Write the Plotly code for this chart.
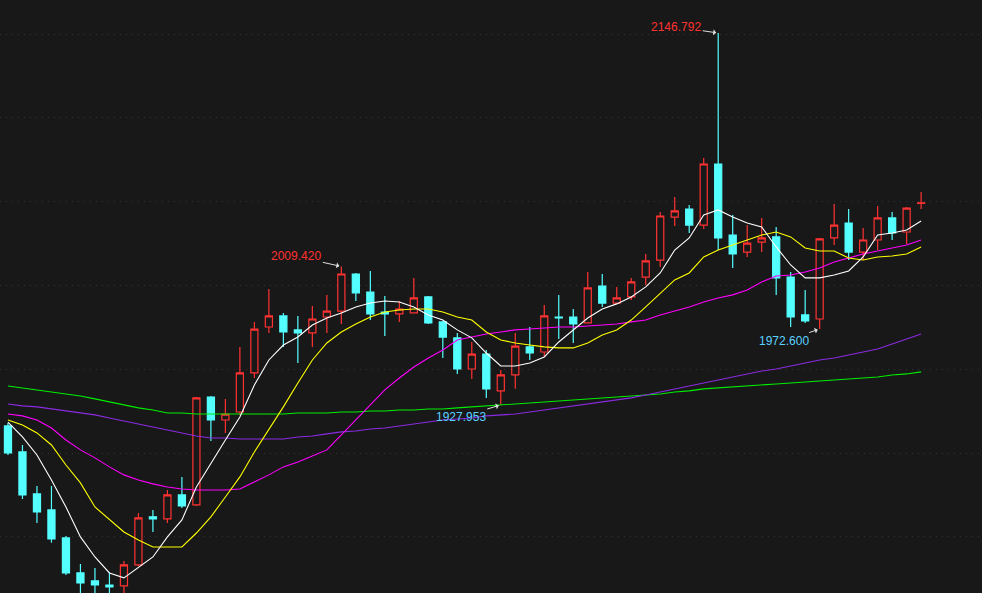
import plotly.graph_objects as go

# OHLC per session
opens = [1915.6, 1900.3, 1875.6, 1866.2, 1849.7, 1829.1, 1824.4, 1822.0, 1821.5, 1833.8,
         1862.1, 1860.9, 1875.0, 1869.1, 1932.6, 1919.1, 1923.8, 1946.8, 1973.8, 1980.3,
         1972.1, 1970.3, 1979.7, 1983.2, 2005.0, 1994.4, 1982.6, 1981.5, 1982.1, 1991.5,
         1976.8, 1967.4, 1949.1, 1957.9, 1936.2, 1945.6, 1962.1, 1959.1, 1979.7, 1979.7,
         1976.2, 1997.9, 1987.9, 1991.5, 2003.2, 2013.2, 2038.5, 2043.2, 2033.8, 2069.7,
         2027.9, 2017.9, 2023.8, 2026.8, 2003.2, 1980.9, 1978.5, 2026.2, 2035.0, 2017.9,
         2025.0, 2038.0, 2029.7, 2046.5]
highs = [1917.3, 1904.4, 1880.3, 1880.3, 1850.9, 1834.4, 1832.0, 1829.7, 1836.2, 1864.4,
         1866.2, 1877.9, 1885.6, 1932.6, 1933.2, 1931.5, 1962.1, 1976.8, 1996.2, 1982.1,
         1980.3, 1986.2, 1992.7, 2009.42, 2005.6, 2006.8, 1992.1, 1989.1, 2002.7, 1992.1,
         1977.4, 1970.3, 1965.0, 1960.3, 1948.5, 1970.3, 1973.8, 1986.8, 1992.7, 1984.4,
         2006.2, 2005.0, 1997.4, 2002.7, 2016.8, 2041.5, 2050.3, 2045.6, 2073.2, 2146.792,
         2039.7, 2033.8, 2038.0, 2032.7, 2006.2, 1995.6, 2026.2, 2046.2, 2043.2, 2032.1,
         2045.0, 2041.5, 2044.4, 2053.2]
lows = [1898.5, 1872.6, 1858.5, 1846.8, 1827.9, 1815.0, 1815.6, 1816.2, 1817.3, 1833.2,
        1853.2, 1858.5, 1867.3, 1868.5, 1906.8, 1911.5, 1922.1, 1943.8, 1970.3, 1962.1,
        1952.6, 1962.1, 1970.3, 1975.6, 1989.1, 1977.9, 1968.5, 1976.8, 1982.1, 1975.5,
        1955.6, 1946.2, 1943.2, 1932.1, 1927.953, 1937.4, 1954.4, 1956.2, 1966.8, 1964.4,
        1976.2, 1985.6, 1987.9, 1989.7, 1998.5, 2009.1, 2033.2, 2029.1, 2031.5, 2019.1,
        2008.5, 2015.0, 2017.9, 1992.7, 1973.8, 1976.2, 1972.6, 2022.1, 2013.2, 2013.2,
        2019.1, 2025.0, 2022.7, 2043.2]
closes = [1899.7, 1875.0, 1865.0, 1849.1, 1829.1, 1823.2, 1822.0, 1820.9, 1833.8, 1861.5,
          1860.9, 1875.0, 1868.5, 1932.1, 1919.1, 1922.6, 1946.8, 1972.6, 1980.3, 1970.9,
          1970.3, 1978.5, 1983.2, 2005.0, 1993.8, 1981.5, 1981.5, 1984.4, 1990.9, 1976.2,
          1967.9, 1949.1, 1957.9, 1937.4, 1945.6, 1962.6, 1958.5, 1980.3, 1979.1, 1975.6,
          1996.8, 1987.9, 1990.9, 2000.3, 2012.7, 2039.1, 2042.1, 2033.8, 2069.7, 2026.2,
          2016.8, 2023.2, 2026.2, 2002.7, 1979.7, 1977.4, 2025.6, 2033.8, 2017.9, 2025.0,
          2038.0, 2029.1, 2043.8, 2046.8]

# moving averages as drawn (they reach back before the visible window)
ma5 = [1917.9, 1909.1, 1898.5, 1883.8, 1867.9, 1850.3, 1838.5, 1829.1, 1826.2, 1832.6,
       1838.5, 1850.3, 1860.3, 1879.7, 1893.8, 1907.3, 1920.9, 1939.7, 1954.4, 1963.2,
       1967.9, 1975.0, 1979.1, 1982.1, 1985.6, 1987.9, 1989.1, 1988.5, 1985.6, 1980.9,
       1977.9, 1972.1, 1967.4, 1958.5, 1950.9, 1950.9, 1952.6, 1956.2, 1965.0, 1972.1,
       1979.1, 1984.4, 1987.4, 1991.5, 1997.4, 2005.6, 2019.1, 2026.2, 2039.7, 2042.7,
       2038.5, 2035.0, 2032.7, 2020.9, 2010.3, 2002.7, 2002.7, 2004.4, 2006.8, 2015.0,
       2027.9, 2029.1, 2030.9, 2036.2]
ma10 = [1919.1, 1916.2, 1911.5, 1904.4, 1892.6, 1882.1, 1867.9, 1860.3, 1853.2, 1848.5,
        1844.4, 1844.4, 1844.4, 1852.6, 1862.1, 1873.8, 1885.6, 1900.3, 1913.2, 1926.8,
        1940.9, 1954.4, 1964.4, 1970.9, 1975.6, 1979.7, 1982.6, 1983.8, 1984.4, 1984.4,
        1982.6, 1979.7, 1977.9, 1970.9, 1966.2, 1964.4, 1963.2, 1962.1, 1961.5, 1961.5,
        1964.4, 1969.1, 1972.1, 1977.9, 1985.6, 1993.8, 2001.5, 2005.6, 2015.0, 2019.1,
        2022.1, 2025.0, 2027.9, 2029.7, 2026.8, 2020.3, 2018.5, 2018.5, 2014.4, 2013.2,
        2015.0, 2015.6, 2016.8, 2020.9]
ma20 = [1922.6, 1921.5, 1919.1, 1914.4, 1907.3, 1901.5, 1896.8, 1891.5, 1886.8, 1883.8,
        1881.5, 1879.7, 1878.5, 1877.9, 1877.9, 1877.9, 1878.5, 1882.6, 1886.8, 1891.5,
        1894.4, 1897.9, 1901.5, 1910.3, 1919.1, 1928.5, 1936.8, 1943.8, 1950.3, 1955.6,
        1960.3, 1966.2, 1967.9, 1969.7, 1970.9, 1972.1, 1972.6, 1973.2, 1973.8, 1973.8,
        1974.4, 1975.0, 1975.6, 1976.8, 1977.9, 1980.9, 1983.2, 1985.6, 1988.5, 1990.9,
        1992.7, 1995.6, 2000.3, 2003.8, 2004.4, 2006.2, 2008.5, 2012.1, 2014.4, 2016.8,
        2018.5, 2020.3, 2022.1, 2025.0]
ma60 = [1928.5, 1927.4, 1926.8, 1925.6, 1924.4, 1923.2, 1922.1, 1920.3, 1918.5, 1916.8,
        1915.0, 1913.2, 1911.5, 1909.7, 1908.5, 1908.5, 1907.9, 1907.9, 1907.9, 1907.9,
        1909.1, 1909.7, 1910.9, 1912.1, 1912.6, 1913.8, 1914.4, 1915.6, 1916.8, 1917.9,
        1919.1, 1919.7, 1920.3, 1921.5, 1922.1, 1922.6, 1923.8, 1925.0, 1926.2, 1927.4,
        1928.5, 1929.7, 1930.9, 1932.1, 1933.8, 1935.6, 1937.4, 1939.1, 1940.9, 1942.6,
        1944.4, 1946.2, 1947.9, 1949.1, 1950.9, 1952.6, 1954.4, 1955.6, 1957.4, 1959.1,
        1960.9, 1963.8, 1966.8, 1969.7]
ma120 = [1939.1, 1937.9, 1936.8, 1935.6, 1934.4, 1933.2, 1931.5, 1929.7, 1927.9, 1926.2,
         1925.0, 1923.2, 1923.2, 1922.6, 1922.6, 1922.6, 1922.6, 1922.6, 1922.6, 1922.6,
         1923.2, 1923.2, 1923.2, 1923.8, 1923.8, 1924.4, 1924.4, 1925.0, 1925.0, 1925.6,
         1925.6, 1926.2, 1926.8, 1927.4, 1927.9, 1928.5, 1929.1, 1929.7, 1930.3, 1930.9,
         1931.5, 1932.1, 1932.6, 1933.2, 1933.8, 1934.4, 1935.6, 1936.2, 1937.4, 1937.9,
         1938.5, 1939.1, 1939.7, 1940.3, 1940.9, 1941.5, 1942.1, 1942.6, 1943.2, 1943.8,
         1944.4, 1945.6, 1946.2, 1947.4]

x = list(range(len(closes)))
bg = "#181818"
red = "#ff3232"
cyan = "#54ffff"

fig = go.Figure()
fig.add_trace(go.Candlestick(
    x=x, open=opens, high=highs, low=lows, close=closes,
    increasing=dict(line=dict(color=red, width=1.2), fillcolor=bg),
    decreasing=dict(line=dict(color=cyan, width=1.2), fillcolor=cyan),
    whiskerwidth=0, showlegend=False,
))
for vals, col in [(ma120, "#00ee00"), (ma60, "#8a2be2"), (ma20, "#ff00ff"),
                  (ma10, "#ffff00"), (ma5, "#ffffff")]:
    fig.add_trace(go.Scatter(x=x, y=vals, mode="lines", line=dict(color=col, width=1.1),
                             showlegend=False, hoverinfo="skip"))

def mark(i, price, text, col, ax, ay):
    fig.add_annotation(x=i, y=price, text=text, showarrow=True, arrowhead=1,
                       arrowsize=1, arrowwidth=1, arrowcolor="#dddddd",
                       ax=ax, ay=ay, standoff=2,
                       font=dict(color=col, size=12, family="Liberation Sans"))

mark(49, highs[49], "2146.792", red, -42, -6)
mark(23, highs[23], "2009.420", red, -45, -10)
mark(34, lows[34], "1927.953", "#5ad2ff", -40, 12)
mark(56, lows[56], "1972.600", "#5ad2ff", -36, 12)

fig.update_layout(
    width=982, height=593, margin=dict(l=0, r=0, t=0, b=0),
    paper_bgcolor=bg, plot_bgcolor=bg,
    xaxis=dict(range=[-0.55, 67.2], showgrid=False, showticklabels=False,
               zeroline=False, rangeslider=dict(visible=False)),
    yaxis=dict(range=[1817.3, 2166.2], showticklabels=False, zeroline=False,
               tick0=1850.3, dtick=49.3, gridcolor="#333333", griddash="1px,5px", gridwidth=1),
)
fig.write_html("out.html", config={"displayModeBar": False},
               post_script="document.body.style.margin='0';document.body.style.background='#181818';")
